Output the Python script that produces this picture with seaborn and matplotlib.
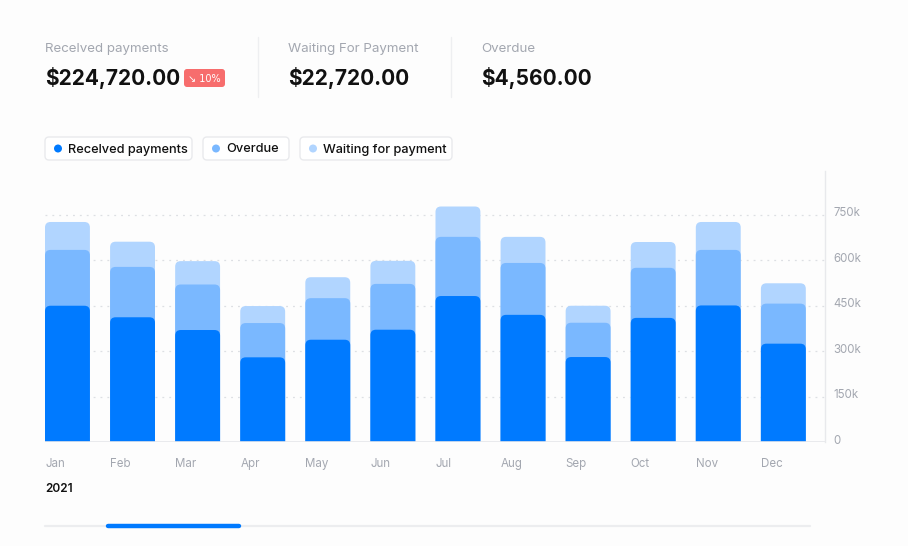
import numpy as np
import pandas as pd
import seaborn as sns
import matplotlib.pyplot as plt
import matplotlib.transforms as mtrans
from matplotlib.patches import FancyBboxPatch, Circle
from matplotlib.lines import Line2D

months = ["Jan", "Feb", "Mar", "Apr", "May", "Jun", "Jul", "Aug", "Sep", "Oct", "Nov", "Dec"]
received = [450, 412, 370, 280, 338, 371, 482, 420, 281, 410, 451, 325]   # thousands
overdue = [184, 166, 150, 113, 137, 151, 195, 171, 113, 165, 183, 132]
waiting = [92, 83, 77, 56, 69, 76, 100, 86, 56, 85, 92, 67]
y_ticks = [0, 150, 300, 450, 600, 750]
y_labels = ["0", "150k", "300k", "450k", "600k", "750k"]

summary_titles = ["Recelved payments", "Waiting For Payment", "Overdue"]
summary_values = ["$224,720.00", "$22,720.00", "$4,560.00"]
legend_names = ["Recelved payments", "Overdue", "Waiting for payment"]

c_dark, c_mid, c_light = "#007AFF", "#7AB8FF", "#B1D5FF"
gray = "#A3A7B0"
bg = "#FDFDFD"

sns.set_theme(style="white")
plt.rcParams['font.family'] = ['Inter', 'DejaVu Sans']

W, H = 908, 546
fig = plt.figure(figsize=(W / 100, H / 100), dpi=100, facecolor=bg)
T = fig.dpi_scale_trans


def px(x, y):
    return x / 100, (H - y) / 100


df = pd.DataFrame({"month": months,
                   "received": np.array(received) * 1000,
                   "overdue": np.array(overdue) * 1000,
                   "waiting": np.array(waiting) * 1000})
df["mid"] = df["received"] + df["overdue"]
df["total"] = df["mid"] + df["waiting"]

ax = fig.add_axes([45 / W, 1 - 442.3 / H, 780 / W, (442.3 - 171) / H])
ax.set_facecolor(bg)

bw = 0.69
for col, c in [("total", c_light), ("mid", c_mid), ("received", c_dark)]:
    sns.barplot(data=df, x="month", y=col, color=c, width=bw, ax=ax,
                saturation=1, zorder=3)

ax.set_xlim(-bw / 2, 11.64)
ax.set_ylim(0, 894000)

# round the bar tops
pos = ax.get_position()
x_px = pos.width * W / (ax.get_xlim()[1] - ax.get_xlim()[0])
y_px = pos.height * H / (ax.get_ylim()[1] - ax.get_ylim()[0])
aspect = x_px / y_px
r = 5.5 / x_px
for p in list(ax.patches):
    x0, w, h, fc = p.get_x(), p.get_width(), p.get_height(), p.get_facecolor()
    p.remove()
    ax.add_patch(FancyBboxPatch((x0, -r * aspect * 2), w, h + r * aspect * 2,
                                boxstyle=f"round,pad=0,rounding_size={r}",
                                mutation_aspect=aspect, fc=fc, ec="none", zorder=3))

for v in y_ticks[1:]:
    ax.axhline(v * 1000, color="#DDDFE3", lw=0.9, ls=(0, (1.5, 4)), zorder=1)
ax.axhline(0, color="#E6E7EA", lw=1.2, zorder=4)

for s in ["top", "left", "bottom"]:
    ax.spines[s].set_visible(False)
ax.spines["right"].set_color("#E8E9EC")
ax.spines["right"].set_linewidth(1)
ax.yaxis.tick_right()
ax.set_yticks([v * 1000 for v in y_ticks])
ax.set_yticklabels(y_labels)
ax.tick_params(axis="y", length=0, pad=6, labelsize=8.3, labelcolor=gray)
shift = mtrans.ScaledTranslation(0, 3 / 100, fig.dpi_scale_trans)
for lab in ax.get_yticklabels():
    lab.set_transform(lab.get_transform() + shift)
ax.set_xticks(np.arange(len(months)) - bw / 2)
ax.set_xticklabels(months, ha="left")
ax.tick_params(axis="x", length=0, pad=11, labelsize=8.3, labelcolor=gray)
ax.set_xlabel("")
ax.set_ylabel("")

# summary header
xs = [45, 288, 481]
for x, t, v in zip(xs, summary_titles, summary_values):
    fig.text(*px(x, 49), t, transform=T, fontsize=9.6, color=gray, va="center", ha="left")
    fig.text(*px(x, 78), v, transform=T, fontsize=15, color="#111111",
             fontweight="bold", va="center", ha="left")
for x in [258, 451]:
    fig.add_artist(Line2D([x / 100, x / 100], [(H - 37) / 100, (H - 97) / 100],
                          transform=T, color="#EEEFF1", lw=1))

# badge
bx0, by0, bx1, by1 = 184, 69, 225, 87
fig.add_artist(FancyBboxPatch(px(bx0, by1), (bx1 - bx0) / 100, (by1 - by0) / 100,
                              boxstyle="round,pad=0,rounding_size=0.03", transform=T,
                              fc="#F76D6D", ec="none"))
fig.text(*px((bx0 + bx1) / 2, (by0 + by1) / 2 + 0.5), "\u2198 10%", transform=T, fontsize=7,
         color="white", ha="center", va="center", family=['DejaVu Sans'])

# legend chips
chips = [(45, 192), (203, 289), (300, 452)]
for (x0, x1), name, c in zip(chips, legend_names, [c_dark, c_mid, c_light]):
    fig.add_artist(FancyBboxPatch(px(x0, 160), (x1 - x0) / 100, 0.23,
                                  boxstyle="round,pad=0,rounding_size=0.04", transform=T,
                                  fc="white", ec="#E9EAED", lw=1))
    fig.add_artist(Circle(px(x0 + 13, 148.5), 0.04, transform=T, fc=c, ec="none"))
    fig.text(*px(x0 + 23, 149.5), name, transform=T, fontsize=9.2, color="#111111",
             fontweight="medium", va="center", ha="left")

# year and scrollbar
fig.text(*px(45, 489), "2021", transform=T, fontsize=8.5, color="#111111",
         fontweight="semibold", va="center", ha="left")
fig.add_artist(Line2D([0.45, 8.10], [(H - 526) / 100] * 2, transform=T,
                      color="#ECEDEF", lw=1.6))
fig.add_artist(Line2D([1.08, 2.39], [(H - 526) / 100] * 2, transform=T,
                      color=c_dark, lw=3.2, solid_capstyle="round"))

fig.savefig("out.png", dpi=100, facecolor=bg)
